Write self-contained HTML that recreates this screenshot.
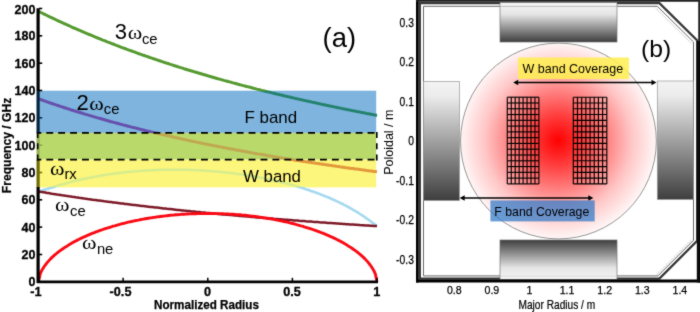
<!DOCTYPE html>
<html><head><meta charset="utf-8"><title>figure</title>
<style>html,body{margin:0;padding:0;background:#fff}svg{display:block}</style>
</head><body>
<svg width="700" height="312" viewBox="0 0 700 312" font-family="Liberation Sans, sans-serif" fill="#000">
<defs>
<filter id="soft" x="0" y="0" width="700" height="312" filterUnits="userSpaceOnUse" color-interpolation-filters="sRGB"><feConvolveMatrix order="3" kernelMatrix="1 4 1 4 30 4 1 4 1" divisor="50" edgeMode="duplicate" preserveAlpha="true"/></filter>
<linearGradient id="g3" gradientUnits="userSpaceOnUse" x1="0" y1="0" x2="0" y2="312"><stop offset="0.00000" stop-color="#559a30"/><stop offset="0.29071" stop-color="#559a30"/><stop offset="0.29071" stop-color="#23826e"/><stop offset="0.42596" stop-color="#23826e"/><stop offset="0.42596" stop-color="#23826e"/><stop offset="0.51154" stop-color="#23826e"/><stop offset="0.51154" stop-color="#23826e"/><stop offset="0.60064" stop-color="#23826e"/><stop offset="0.60064" stop-color="#559a30"/><stop offset="1.00000" stop-color="#559a30"/></linearGradient>
<linearGradient id="g2" gradientUnits="userSpaceOnUse" x1="0" y1="0" x2="0" y2="312"><stop offset="0.00000" stop-color="#d0409a"/><stop offset="0.29071" stop-color="#d0409a"/><stop offset="0.29071" stop-color="#6650ac"/><stop offset="0.42596" stop-color="#6650ac"/><stop offset="0.42596" stop-color="#c0a850"/><stop offset="0.51154" stop-color="#c0a850"/><stop offset="0.51154" stop-color="#e3983c"/><stop offset="0.60064" stop-color="#e3983c"/><stop offset="0.60064" stop-color="#d0409a"/><stop offset="1.00000" stop-color="#d0409a"/></linearGradient>
<linearGradient id="grx" gradientUnits="userSpaceOnUse" x1="0" y1="0" x2="0" y2="312"><stop offset="0.00000" stop-color="#a5d9ef"/><stop offset="0.29071" stop-color="#a5d9ef"/><stop offset="0.29071" stop-color="#a5d9ef"/><stop offset="0.42596" stop-color="#a5d9ef"/><stop offset="0.42596" stop-color="#cfe684"/><stop offset="0.51154" stop-color="#cfe684"/><stop offset="0.51154" stop-color="#d6ec8c"/><stop offset="0.60064" stop-color="#d6ec8c"/><stop offset="0.60064" stop-color="#a5d9ef"/><stop offset="1.00000" stop-color="#a5d9ef"/></linearGradient>
<linearGradient id="gax" gradientUnits="userSpaceOnUse" x1="0" y1="0" x2="0" y2="312"><stop offset="0.00000" stop-color="#000"/><stop offset="0.29071" stop-color="#000"/><stop offset="0.29071" stop-color="#05233f"/><stop offset="0.42596" stop-color="#05233f"/><stop offset="0.42596" stop-color="#97b055"/><stop offset="0.51154" stop-color="#97b055"/><stop offset="0.51154" stop-color="#6e6a05"/><stop offset="0.60064" stop-color="#6e6a05"/><stop offset="0.60064" stop-color="#000"/><stop offset="1.00000" stop-color="#000"/></linearGradient>
<linearGradient id="gd" x1="0" y1="0" x2="0" y2="1"><stop offset="0" stop-color="#f3f3f3"/><stop offset="0.12" stop-color="#ececec"/><stop offset="1" stop-color="#3e3e3e"/></linearGradient>
<linearGradient id="gu" x1="0" y1="1" x2="0" y2="0"><stop offset="0" stop-color="#f3f3f3"/><stop offset="0.12" stop-color="#ececec"/><stop offset="1" stop-color="#3e3e3e"/></linearGradient>
<linearGradient id="gd2" x1="0" y1="0" x2="0" y2="1"><stop offset="0" stop-color="#f6f6f6"/><stop offset="0.3" stop-color="#e4e4e4"/><stop offset="1" stop-color="#3e3e3e"/></linearGradient>
<linearGradient id="gu2" x1="0" y1="1" x2="0" y2="0"><stop offset="0" stop-color="#f6f6f6"/><stop offset="0.3" stop-color="#e4e4e4"/><stop offset="1" stop-color="#3e3e3e"/></linearGradient>
<radialGradient id="pl" gradientUnits="userSpaceOnUse" cx="558" cy="140.5" r="98"><stop offset="0" stop-color="#ff0000"/><stop offset="0.25" stop-color="#ff3c3c"/><stop offset="0.5" stop-color="#ff8080"/><stop offset="0.75" stop-color="#ffc6c6"/><stop offset="1" stop-color="#fff6f6"/></radialGradient>
</defs>
<g filter="url(#soft)">
<rect x="0" y="0" width="700" height="312" fill="#fff"/>
<rect x="37.0" y="90.7" width="339.2" height="42.2" fill="#7eb4de"/>
<rect x="37.0" y="132.9" width="339.2" height="26.7" fill="#b9d96b"/>
<rect x="37.0" y="159.6" width="339.2" height="27.8" fill="#fdf67c"/>
<g fill="none" stroke-linecap="butt" stroke-linejoin="round">
<path d="M38.5,191.5 L40.2,191.1 L41.9,190.6 L43.6,190.0 L45.3,189.5 L47.0,189.0 L48.7,188.4 L50.3,187.9 L52.0,187.4 L53.7,186.9 L55.4,186.3 L57.1,185.8 L58.8,185.3 L60.5,184.8 L62.2,184.3 L63.9,183.9 L65.6,183.4 L67.3,182.9 L69.0,182.5 L70.7,182.1 L72.3,181.6 L74.0,181.2 L75.7,180.8 L77.4,180.4 L79.1,180.0 L80.8,179.6 L82.5,179.2 L84.2,178.9 L85.9,178.5 L87.6,178.1 L89.3,177.8 L91.0,177.5 L92.7,177.1 L94.4,176.8 L96.0,176.5 L97.7,176.2 L99.4,175.9 L101.1,175.6 L102.8,175.3 L104.5,175.0 L106.2,174.8 L107.9,174.5 L109.6,174.3 L111.3,174.0 L113.0,173.8 L114.7,173.6 L116.4,173.3 L118.0,173.1 L119.7,172.9 L121.4,172.7 L123.1,172.5 L124.8,172.3 L126.5,172.1 L128.2,172.0 L129.9,171.8 L131.6,171.6 L133.3,171.5 L135.0,171.3 L136.7,171.2 L138.4,171.1 L140.1,170.9 L141.7,170.8 L143.4,170.7 L145.1,170.6 L146.8,170.5 L148.5,170.4 L150.2,170.3 L151.9,170.2 L153.6,170.1 L155.3,170.1 L157.0,170.0 L158.7,169.9 L160.4,169.9 L162.1,169.8 L163.7,169.8 L165.4,169.8 L167.1,169.7 L168.8,169.7 L170.5,169.7 L172.2,169.7 L173.9,169.7 L175.6,169.7 L177.3,169.7 L179.0,169.7 L180.7,169.7 L182.4,169.8 L184.1,169.8 L185.7,169.8 L187.4,169.9 L189.1,169.9 L190.8,170.0 L192.5,170.0 L194.2,170.1 L195.9,170.2 L197.6,170.2 L199.3,170.3 L201.0,170.4 L202.7,170.5 L204.4,170.6 L206.1,170.7 L207.8,170.9 L209.4,171.0 L211.1,171.1 L212.8,171.2 L214.5,171.4 L216.2,171.5 L217.9,171.7 L219.6,171.8 L221.3,172.0 L223.0,172.2 L224.7,172.3 L226.4,172.5 L228.1,172.7 L229.8,172.9 L231.4,173.1 L233.1,173.3 L234.8,173.5 L236.5,173.8 L238.2,174.0 L239.9,174.2 L241.6,174.5 L243.3,174.7 L245.0,175.0 L246.7,175.2 L248.4,175.5 L250.1,175.8 L251.8,176.1 L253.4,176.3 L255.1,176.6 L256.8,176.9 L258.5,177.3 L260.2,177.6 L261.9,177.9 L263.6,178.2 L265.3,178.6 L267.0,178.9 L268.7,179.3 L270.4,179.6 L272.1,180.0 L273.8,180.4 L275.5,180.8 L277.1,181.2 L278.8,181.6 L280.5,182.0 L282.2,182.4 L283.9,182.8 L285.6,183.2 L287.3,183.7 L289.0,184.1 L290.7,184.6 L292.4,185.1 L294.1,185.5 L295.8,186.0 L297.5,186.5 L299.1,187.0 L300.8,187.6 L302.5,188.1 L304.2,188.6 L305.9,189.2 L307.6,189.7 L309.3,190.3 L311.0,190.9 L312.7,191.5 L314.4,192.1 L316.1,192.7 L317.8,193.3 L319.5,193.9 L321.1,194.6 L322.8,195.3 L324.5,195.9 L326.2,196.6 L327.9,197.3 L329.6,198.0 L331.3,198.8 L333.0,199.5 L334.7,200.3 L336.4,201.1 L338.1,201.8 L339.8,202.7 L341.5,203.5 L343.2,204.3 L344.8,205.2 L346.5,206.1 L348.2,207.0 L349.9,207.9 L351.6,208.9 L353.3,209.8 L355.0,210.8 L356.7,211.9 L358.4,212.9 L360.1,214.0 L361.8,215.1 L363.5,216.2 L365.2,217.4 L366.8,218.6 L368.5,219.8 L370.2,221.0 L371.9,222.3 L373.6,223.6 L375.3,224.9 L377.0,226.1" stroke="url(#grx)" stroke-width="2.6"/>
<path d="M38.5,11.3 L40.2,12.2 L41.9,13.0 L43.6,13.8 L45.3,14.7 L47.0,15.5 L48.7,16.3 L50.3,17.1 L52.0,17.9 L53.7,18.7 L55.4,19.5 L57.1,20.3 L58.8,21.1 L60.5,21.9 L62.2,22.7 L63.9,23.5 L65.6,24.2 L67.3,25.0 L69.0,25.7 L70.7,26.5 L72.3,27.3 L74.0,28.0 L75.7,28.7 L77.4,29.5 L79.1,30.2 L80.8,30.9 L82.5,31.7 L84.2,32.4 L85.9,33.1 L87.6,33.8 L89.3,34.5 L91.0,35.2 L92.7,35.9 L94.4,36.6 L96.0,37.3 L97.7,38.0 L99.4,38.7 L101.1,39.4 L102.8,40.1 L104.5,40.7 L106.2,41.4 L107.9,42.1 L109.6,42.7 L111.3,43.4 L113.0,44.0 L114.7,44.7 L116.4,45.3 L118.0,46.0 L119.7,46.6 L121.4,47.3 L123.1,47.9 L124.8,48.5 L126.5,49.2 L128.2,49.8 L129.9,50.4 L131.6,51.0 L133.3,51.6 L135.0,52.2 L136.7,52.9 L138.4,53.5 L140.1,54.1 L141.7,54.7 L143.4,55.3 L145.1,55.8 L146.8,56.4 L148.5,57.0 L150.2,57.6 L151.9,58.2 L153.6,58.8 L155.3,59.3 L157.0,59.9 L158.7,60.5 L160.4,61.0 L162.1,61.6 L163.7,62.2 L165.4,62.7 L167.1,63.3 L168.8,63.8 L170.5,64.4 L172.2,64.9 L173.9,65.5 L175.6,66.0 L177.3,66.5 L179.0,67.1 L180.7,67.6 L182.4,68.1 L184.1,68.7 L185.7,69.2 L187.4,69.7 L189.1,70.2 L190.8,70.7 L192.5,71.2 L194.2,71.8 L195.9,72.3 L197.6,72.8 L199.3,73.3 L201.0,73.8 L202.7,74.3 L204.4,74.8 L206.1,75.3 L207.8,75.8 L209.4,76.2 L211.1,76.7 L212.8,77.2 L214.5,77.7 L216.2,78.2 L217.9,78.7 L219.6,79.1 L221.3,79.6 L223.0,80.1 L224.7,80.6 L226.4,81.0 L228.1,81.5 L229.8,81.9 L231.4,82.4 L233.1,82.9 L234.8,83.3 L236.5,83.8 L238.2,84.2 L239.9,84.7 L241.6,85.1 L243.3,85.6 L245.0,86.0 L246.7,86.5 L248.4,86.9 L250.1,87.3 L251.8,87.8 L253.4,88.2 L255.1,88.6 L256.8,89.1 L258.5,89.5 L260.2,89.9 L261.9,90.4 L263.6,90.8 L265.3,91.2 L267.0,91.6 L268.7,92.0 L270.4,92.4 L272.1,92.9 L273.8,93.3 L275.5,93.7 L277.1,94.1 L278.8,94.5 L280.5,94.9 L282.2,95.3 L283.9,95.7 L285.6,96.1 L287.3,96.5 L289.0,96.9 L290.7,97.3 L292.4,97.7 L294.1,98.1 L295.8,98.5 L297.5,98.9 L299.1,99.2 L300.8,99.6 L302.5,100.0 L304.2,100.4 L305.9,100.8 L307.6,101.1 L309.3,101.5 L311.0,101.9 L312.7,102.3 L314.4,102.6 L316.1,103.0 L317.8,103.4 L319.5,103.8 L321.1,104.1 L322.8,104.5 L324.5,104.8 L326.2,105.2 L327.9,105.6 L329.6,105.9 L331.3,106.3 L333.0,106.6 L334.7,107.0 L336.4,107.3 L338.1,107.7 L339.8,108.0 L341.5,108.4 L343.2,108.7 L344.8,109.1 L346.5,109.4 L348.2,109.8 L349.9,110.1 L351.6,110.5 L353.3,110.8 L355.0,111.1 L356.7,111.5 L358.4,111.8 L360.1,112.1 L361.8,112.5 L363.5,112.8 L365.2,113.1 L366.8,113.5 L368.5,113.8 L370.2,114.1 L371.9,114.4 L373.6,114.8 L375.3,115.1 L377.0,115.4" stroke="url(#g3)" stroke-width="3"/>
<path d="M38.5,98.8 L40.2,99.4 L41.9,100.0 L43.6,100.6 L45.3,101.2 L47.0,101.8 L48.7,102.4 L50.3,103.0 L52.0,103.5 L53.7,104.1 L55.4,104.7 L57.1,105.3 L58.8,105.8 L60.5,106.4 L62.2,106.9 L63.9,107.5 L65.6,108.0 L67.3,108.6 L69.0,109.1 L70.7,109.7 L72.3,110.2 L74.0,110.7 L75.7,111.3 L77.4,111.8 L79.1,112.3 L80.8,112.8 L82.5,113.3 L84.2,113.9 L85.9,114.4 L87.6,114.9 L89.3,115.4 L91.0,115.9 L92.7,116.4 L94.4,116.9 L96.0,117.4 L97.7,117.9 L99.4,118.3 L101.1,118.8 L102.8,119.3 L104.5,119.8 L106.2,120.3 L107.9,120.7 L109.6,121.2 L111.3,121.7 L113.0,122.1 L114.7,122.6 L116.4,123.0 L118.0,123.5 L119.7,124.0 L121.4,124.4 L123.1,124.9 L124.8,125.3 L126.5,125.7 L128.2,126.2 L129.9,126.6 L131.6,127.1 L133.3,127.5 L135.0,127.9 L136.7,128.3 L138.4,128.8 L140.1,129.2 L141.7,129.6 L143.4,130.0 L145.1,130.4 L146.8,130.9 L148.5,131.3 L150.2,131.7 L151.9,132.1 L153.6,132.5 L155.3,132.9 L157.0,133.3 L158.7,133.7 L160.4,134.1 L162.1,134.5 L163.7,134.9 L165.4,135.3 L167.1,135.7 L168.8,136.0 L170.5,136.4 L172.2,136.8 L173.9,137.2 L175.6,137.6 L177.3,137.9 L179.0,138.3 L180.7,138.7 L182.4,139.1 L184.1,139.4 L185.7,139.8 L187.4,140.2 L189.1,140.5 L190.8,140.9 L192.5,141.2 L194.2,141.6 L195.9,142.0 L197.6,142.3 L199.3,142.7 L201.0,143.0 L202.7,143.4 L204.4,143.7 L206.1,144.1 L207.8,144.4 L209.4,144.7 L211.1,145.1 L212.8,145.4 L214.5,145.8 L216.2,146.1 L217.9,146.4 L219.6,146.8 L221.3,147.1 L223.0,147.4 L224.7,147.7 L226.4,148.1 L228.1,148.4 L229.8,148.7 L231.4,149.0 L233.1,149.3 L234.8,149.7 L236.5,150.0 L238.2,150.3 L239.9,150.6 L241.6,150.9 L243.3,151.2 L245.0,151.5 L246.7,151.8 L248.4,152.1 L250.1,152.5 L251.8,152.8 L253.4,153.1 L255.1,153.4 L256.8,153.7 L258.5,154.0 L260.2,154.2 L261.9,154.5 L263.6,154.8 L265.3,155.1 L267.0,155.4 L268.7,155.7 L270.4,156.0 L272.1,156.3 L273.8,156.6 L275.5,156.8 L277.1,157.1 L278.8,157.4 L280.5,157.7 L282.2,158.0 L283.9,158.2 L285.6,158.5 L287.3,158.8 L289.0,159.1 L290.7,159.3 L292.4,159.6 L294.1,159.9 L295.8,160.2 L297.5,160.4 L299.1,160.7 L300.8,161.0 L302.5,161.2 L304.2,161.5 L305.9,161.7 L307.6,162.0 L309.3,162.3 L311.0,162.5 L312.7,162.8 L314.4,163.0 L316.1,163.3 L317.8,163.5 L319.5,163.8 L321.1,164.1 L322.8,164.3 L324.5,164.6 L326.2,164.8 L327.9,165.0 L329.6,165.3 L331.3,165.5 L333.0,165.8 L334.7,166.0 L336.4,166.3 L338.1,166.5 L339.8,166.8 L341.5,167.0 L343.2,167.2 L344.8,167.5 L346.5,167.7 L348.2,167.9 L349.9,168.2 L351.6,168.4 L353.3,168.6 L355.0,168.9 L356.7,169.1 L358.4,169.3 L360.1,169.6 L361.8,169.8 L363.5,170.0 L365.2,170.2 L366.8,170.5 L368.5,170.7 L370.2,170.9 L371.9,171.1 L373.6,171.4 L375.3,171.6 L377.0,171.8" stroke="url(#g2)" stroke-width="3"/>
<path d="M38.5,191.5 L40.2,191.8 L41.9,192.0 L43.6,192.3 L45.3,192.6 L47.0,192.9 L48.7,193.1 L50.3,193.4 L52.0,193.7 L53.7,193.9 L55.4,194.2 L57.1,194.5 L58.8,194.7 L60.5,195.0 L62.2,195.3 L63.9,195.5 L65.6,195.8 L67.3,196.0 L69.0,196.3 L70.7,196.5 L72.3,196.8 L74.0,197.0 L75.7,197.3 L77.4,197.5 L79.1,197.8 L80.8,198.0 L82.5,198.2 L84.2,198.5 L85.9,198.7 L87.6,199.0 L89.3,199.2 L91.0,199.4 L92.7,199.7 L94.4,199.9 L96.0,200.1 L97.7,200.4 L99.4,200.6 L101.1,200.8 L102.8,201.0 L104.5,201.3 L106.2,201.5 L107.9,201.7 L109.6,201.9 L111.3,202.1 L113.0,202.4 L114.7,202.6 L116.4,202.8 L118.0,203.0 L119.7,203.2 L121.4,203.4 L123.1,203.6 L124.8,203.9 L126.5,204.1 L128.2,204.3 L129.9,204.5 L131.6,204.7 L133.3,204.9 L135.0,205.1 L136.7,205.3 L138.4,205.5 L140.1,205.7 L141.7,205.9 L143.4,206.1 L145.1,206.3 L146.8,206.5 L148.5,206.7 L150.2,206.9 L151.9,207.1 L153.6,207.3 L155.3,207.5 L157.0,207.6 L158.7,207.8 L160.4,208.0 L162.1,208.2 L163.7,208.4 L165.4,208.6 L167.1,208.8 L168.8,208.9 L170.5,209.1 L172.2,209.3 L173.9,209.5 L175.6,209.7 L177.3,209.9 L179.0,210.0 L180.7,210.2 L182.4,210.4 L184.1,210.6 L185.7,210.7 L187.4,210.9 L189.1,211.1 L190.8,211.3 L192.5,211.4 L194.2,211.6 L195.9,211.8 L197.6,211.9 L199.3,212.1 L201.0,212.3 L202.7,212.4 L204.4,212.6 L206.1,212.8 L207.8,212.9 L209.4,213.1 L211.1,213.3 L212.8,213.4 L214.5,213.6 L216.2,213.7 L217.9,213.9 L219.6,214.1 L221.3,214.2 L223.0,214.4 L224.7,214.5 L226.4,214.7 L228.1,214.8 L229.8,215.0 L231.4,215.1 L233.1,215.3 L234.8,215.4 L236.5,215.6 L238.2,215.8 L239.9,215.9 L241.6,216.1 L243.3,216.2 L245.0,216.3 L246.7,216.5 L248.4,216.6 L250.1,216.8 L251.8,216.9 L253.4,217.1 L255.1,217.2 L256.8,217.4 L258.5,217.5 L260.2,217.7 L261.9,217.8 L263.6,217.9 L265.3,218.1 L267.0,218.2 L268.7,218.4 L270.4,218.5 L272.1,218.6 L273.8,218.8 L275.5,218.9 L277.1,219.0 L278.8,219.2 L280.5,219.3 L282.2,219.4 L283.9,219.6 L285.6,219.7 L287.3,219.8 L289.0,220.0 L290.7,220.1 L292.4,220.2 L294.1,220.4 L295.8,220.5 L297.5,220.6 L299.1,220.8 L300.8,220.9 L302.5,221.0 L304.2,221.1 L305.9,221.3 L307.6,221.4 L309.3,221.5 L311.0,221.6 L312.7,221.8 L314.4,221.9 L316.1,222.0 L317.8,222.1 L319.5,222.3 L321.1,222.4 L322.8,222.5 L324.5,222.6 L326.2,222.7 L327.9,222.9 L329.6,223.0 L331.3,223.1 L333.0,223.2 L334.7,223.3 L336.4,223.5 L338.1,223.6 L339.8,223.7 L341.5,223.8 L343.2,223.9 L344.8,224.0 L346.5,224.2 L348.2,224.3 L349.9,224.4 L351.6,224.5 L353.3,224.6 L355.0,224.7 L356.7,224.8 L358.4,224.9 L360.1,225.1 L361.8,225.2 L363.5,225.3 L365.2,225.4 L366.8,225.5 L368.5,225.6 L370.2,225.7 L371.9,225.8 L373.6,225.9 L375.3,226.0 L377.0,226.1" stroke="#7d1a28" stroke-width="2.5"/>
<path d="M38.5,281.8 L40.2,273.9 L41.9,270.2 L43.6,267.4 L45.3,265.0 L47.0,262.8 L48.7,260.9 L50.3,259.1 L52.0,257.4 L53.7,255.9 L55.4,254.4 L57.1,253.0 L58.8,251.7 L60.5,250.4 L62.2,249.2 L63.9,248.0 L65.6,246.9 L67.3,245.9 L69.0,244.8 L70.7,243.8 L72.3,242.8 L74.0,241.9 L75.7,241.0 L77.4,240.1 L79.1,239.3 L80.8,238.4 L82.5,237.6 L84.2,236.8 L85.9,236.1 L87.6,235.3 L89.3,234.6 L91.0,233.9 L92.7,233.2 L94.4,232.6 L96.0,231.9 L97.7,231.3 L99.4,230.7 L101.1,230.1 L102.8,229.5 L104.5,228.9 L106.2,228.3 L107.9,227.8 L109.6,227.3 L111.3,226.8 L113.0,226.2 L114.7,225.8 L116.4,225.3 L118.0,224.8 L119.7,224.4 L121.4,223.9 L123.1,223.5 L124.8,223.1 L126.5,222.6 L128.2,222.2 L129.9,221.8 L131.6,221.5 L133.3,221.1 L135.0,220.7 L136.7,220.4 L138.4,220.1 L140.1,219.7 L141.7,219.4 L143.4,219.1 L145.1,218.8 L146.8,218.5 L148.5,218.2 L150.2,217.9 L151.9,217.7 L153.6,217.4 L155.3,217.2 L157.0,216.9 L158.7,216.7 L160.4,216.5 L162.1,216.3 L163.7,216.1 L165.4,215.9 L167.1,215.7 L168.8,215.5 L170.5,215.3 L172.2,215.1 L173.9,215.0 L175.6,214.8 L177.3,214.7 L179.0,214.6 L180.7,214.4 L182.4,214.3 L184.1,214.2 L185.7,214.1 L187.4,214.0 L189.1,213.9 L190.8,213.9 L192.5,213.8 L194.2,213.7 L195.9,213.7 L197.6,213.6 L199.3,213.6 L201.0,213.5 L202.7,213.5 L204.4,213.5 L206.1,213.5 L207.8,213.5 L209.4,213.5 L211.1,213.5 L212.8,213.5 L214.5,213.5 L216.2,213.6 L217.9,213.6 L219.6,213.7 L221.3,213.7 L223.0,213.8 L224.7,213.9 L226.4,213.9 L228.1,214.0 L229.8,214.1 L231.4,214.2 L233.1,214.3 L234.8,214.4 L236.5,214.6 L238.2,214.7 L239.9,214.8 L241.6,215.0 L243.3,215.1 L245.0,215.3 L246.7,215.5 L248.4,215.7 L250.1,215.9 L251.8,216.1 L253.4,216.3 L255.1,216.5 L256.8,216.7 L258.5,216.9 L260.2,217.2 L261.9,217.4 L263.6,217.7 L265.3,217.9 L267.0,218.2 L268.7,218.5 L270.4,218.8 L272.1,219.1 L273.8,219.4 L275.5,219.7 L277.1,220.1 L278.8,220.4 L280.5,220.7 L282.2,221.1 L283.9,221.5 L285.6,221.8 L287.3,222.2 L289.0,222.6 L290.7,223.1 L292.4,223.5 L294.1,223.9 L295.8,224.4 L297.5,224.8 L299.1,225.3 L300.8,225.8 L302.5,226.2 L304.2,226.8 L305.9,227.3 L307.6,227.8 L309.3,228.3 L311.0,228.9 L312.7,229.5 L314.4,230.1 L316.1,230.7 L317.8,231.3 L319.5,231.9 L321.1,232.6 L322.8,233.2 L324.5,233.9 L326.2,234.6 L327.9,235.3 L329.6,236.1 L331.3,236.8 L333.0,237.6 L334.7,238.4 L336.4,239.3 L338.1,240.1 L339.8,241.0 L341.5,241.9 L343.2,242.8 L344.8,243.8 L346.5,244.8 L348.2,245.9 L349.9,246.9 L351.6,248.0 L353.3,249.2 L355.0,250.4 L356.7,251.7 L358.4,253.0 L360.1,254.4 L361.8,255.9 L363.5,257.4 L365.2,259.1 L366.8,260.9 L368.5,262.8 L370.2,265.0 L371.9,267.4 L373.6,270.2 L375.3,273.9 L377.0,281.8" stroke="#fb0a14" stroke-width="2.9"/>
</g>
<line x1="38.1" y1="8.2" x2="38.1" y2="283.1" stroke="url(#gax)" stroke-width="3.2"/>
<line x1="37.2" y1="281.8" x2="378" y2="281.8" stroke="#000" stroke-width="2.7"/>
<line x1="39" y1="281.8" x2="42.2" y2="281.8" stroke="#000" stroke-width="1.6"/>
<line x1="39" y1="254.5" x2="42.2" y2="254.5" stroke="#000" stroke-width="1.6"/>
<line x1="39" y1="227.1" x2="42.2" y2="227.1" stroke="#000" stroke-width="1.6"/>
<line x1="39" y1="199.8" x2="42.2" y2="199.8" stroke="#000" stroke-width="1.6"/>
<line x1="39" y1="172.5" x2="42.2" y2="172.5" stroke="#77720a" stroke-width="1.6"/>
<line x1="39" y1="145.2" x2="42.2" y2="145.2" stroke="#8aa34a" stroke-width="1.6"/>
<line x1="39" y1="117.8" x2="42.2" y2="117.8" stroke="#0a3055" stroke-width="1.6"/>
<line x1="39" y1="90.5" x2="42.2" y2="90.5" stroke="#000" stroke-width="1.6"/>
<line x1="39" y1="63.2" x2="42.2" y2="63.2" stroke="#000" stroke-width="1.6"/>
<line x1="39" y1="35.8" x2="42.2" y2="35.8" stroke="#000" stroke-width="1.6"/>
<line x1="39" y1="8.5" x2="42.2" y2="8.5" stroke="#000" stroke-width="1.6"/>
<line x1="38.5" y1="281" x2="38.5" y2="277.8" stroke="#000" stroke-width="1.5"/>
<line x1="123.1" y1="281" x2="123.1" y2="277.8" stroke="#000" stroke-width="1.5"/>
<line x1="207.8" y1="281" x2="207.8" y2="277.8" stroke="#000" stroke-width="1.5"/>
<line x1="292.4" y1="281" x2="292.4" y2="277.8" stroke="#000" stroke-width="1.5"/>
<line x1="377.0" y1="281" x2="377.0" y2="277.8" stroke="#000" stroke-width="1.5"/>
<line x1="36.9" y1="132.9" x2="377.6" y2="132.9" stroke="#000" stroke-width="1.7" stroke-dasharray="6.9 5" stroke-dashoffset="2.5"/>
<line x1="36.9" y1="159.6" x2="377.6" y2="159.6" stroke="#000" stroke-width="1.7" stroke-dasharray="6.9 5" stroke-dashoffset="2.5"/>
<line x1="37.7" y1="132.05" x2="37.7" y2="160.45" stroke="#000" stroke-width="1.6" stroke-dasharray="6 5.2"/>
<line x1="376.8" y1="132.05" x2="376.8" y2="160.45" stroke="#000" stroke-width="1.6" stroke-dasharray="6 5.2"/>
<g font-weight="bold" font-size="12" fill="#000">
<text x="28.45" y="286.20" font-size="12.5" font-weight="bold" stroke="#000" stroke-width="0.30" textLength="6.95" lengthAdjust="spacingAndGlyphs">0</text>
<text x="21.50" y="258.87" font-size="12.5" font-weight="bold" stroke="#000" stroke-width="0.30" textLength="13.90" lengthAdjust="spacingAndGlyphs">20</text>
<text x="21.50" y="231.54" font-size="12.5" font-weight="bold" stroke="#000" stroke-width="0.30" textLength="13.90" lengthAdjust="spacingAndGlyphs">40</text>
<text x="21.50" y="204.21" font-size="12.5" font-weight="bold" stroke="#000" stroke-width="0.30" textLength="13.90" lengthAdjust="spacingAndGlyphs">60</text>
<text x="21.50" y="176.88" font-size="12.5" font-weight="bold" stroke="#000" stroke-width="0.30" textLength="13.90" lengthAdjust="spacingAndGlyphs">80</text>
<text x="14.54" y="149.55" font-size="12.5" font-weight="bold" stroke="#000" stroke-width="0.30" textLength="20.86" lengthAdjust="spacingAndGlyphs">100</text>
<text x="14.54" y="122.22" font-size="12.5" font-weight="bold" stroke="#000" stroke-width="0.30" textLength="20.86" lengthAdjust="spacingAndGlyphs">120</text>
<text x="14.54" y="94.89" font-size="12.5" font-weight="bold" stroke="#000" stroke-width="0.30" textLength="20.86" lengthAdjust="spacingAndGlyphs">140</text>
<text x="14.54" y="67.56" font-size="12.5" font-weight="bold" stroke="#000" stroke-width="0.30" textLength="20.86" lengthAdjust="spacingAndGlyphs">160</text>
<text x="14.54" y="40.23" font-size="12.5" font-weight="bold" stroke="#000" stroke-width="0.30" textLength="20.86" lengthAdjust="spacingAndGlyphs">180</text>
<text x="14.54" y="13.70" font-size="12.5" font-weight="bold" stroke="#000" stroke-width="0.30" textLength="20.86" lengthAdjust="spacingAndGlyphs">200</text>
<text x="30.27" y="295.50" font-size="12.3" font-weight="bold" stroke="#000" stroke-width="0.30" textLength="11.27" lengthAdjust="spacingAndGlyphs">-1</text>
<text x="109.61" y="295.50" font-size="12.3" font-weight="bold" stroke="#000" stroke-width="0.30" textLength="21.83" lengthAdjust="spacingAndGlyphs">-0.5</text>
<text x="203.93" y="295.50" font-size="12.3" font-weight="bold" stroke="#000" stroke-width="0.30" textLength="7.05" lengthAdjust="spacingAndGlyphs">0</text>
<text x="283.27" y="295.50" font-size="12.3" font-weight="bold" stroke="#000" stroke-width="0.30" textLength="17.61" lengthAdjust="spacingAndGlyphs">0.5</text>
<text x="373.18" y="295.50" font-size="12.3" font-weight="bold" stroke="#000" stroke-width="0.30" textLength="7.05" lengthAdjust="spacingAndGlyphs">1</text>
<text x="206.5" y="308.5" stroke="#000" stroke-width="0.25" text-anchor="middle" textLength="104.9" lengthAdjust="spacingAndGlyphs">Normalized Radius</text>
<text transform="translate(10.9,145.5) rotate(-90)" font-size="13" stroke="#000" stroke-width="0.2" text-anchor="middle" textLength="95.4" lengthAdjust="spacingAndGlyphs">Frequency / GHz</text>
</g>
<text><tspan x="114.8" y="39.3" font-size="22">3</tspan><tspan x="127.72" y="39.3" font-size="19.5" font-family="Liberation Serif, serif" textLength="14.50" lengthAdjust="spacingAndGlyphs">ω</tspan><tspan x="141.9" y="44.0" font-size="14.8">ce</tspan></text>
<text><tspan x="76.5" y="109.6" font-size="22">2</tspan><tspan x="89.22" y="109.6" font-size="19.5" font-family="Liberation Serif, serif" textLength="14.50" lengthAdjust="spacingAndGlyphs">ω</tspan><tspan x="103.8" y="114.3" font-size="14.8">ce</tspan></text>
<text><tspan x="50.12" y="174.6" font-size="19.5" font-family="Liberation Serif, serif" textLength="14.50" lengthAdjust="spacingAndGlyphs">ω</tspan><tspan x="64.4" y="179.0" font-size="14.8">rx</tspan></text>
<text><tspan x="55.12" y="211.0" font-size="19.5" font-family="Liberation Serif, serif" textLength="14.50" lengthAdjust="spacingAndGlyphs">ω</tspan><tspan x="70.0" y="216.3" font-size="14.8">ce</tspan></text>
<text><tspan x="81.92" y="249.2" font-size="19.5" font-family="Liberation Serif, serif" textLength="14.50" lengthAdjust="spacingAndGlyphs">ω</tspan><tspan x="96.9" y="254.0" font-size="14.8">ne</tspan></text>
<text x="244.5" y="122.6" font-size="16.4" textLength="52.7" lengthAdjust="spacingAndGlyphs">F band</text>
<text x="243.1" y="182.1" font-size="16.8">W band</text>
<text x="322.6" y="46.7" font-size="27.4">(a)</text>
<circle cx="558.45" cy="141" r="97.9" fill="url(#pl)" stroke="#8a8a8a" stroke-width="0.9"/>
<path d="M419.8,3.0 L659.2,3.0 L697.2,40.5 L697.2,240.8 L659.4,278.6 L419.8,278.6 Z" fill="none" stroke="#383838" stroke-width="2.3"/>
<path d="M423.5,6.3 L657.3,6.3 L693.5,42 L693.5,240.3 L657.9,275.9 L423.5,275.9 Z" fill="none" stroke="#6a6a6a" stroke-width="1"/>
<path d="M655.5,8 L691.6,43.6 M691.9,239.5 L656.4,275" fill="none" stroke="#d0d0d0" stroke-width="0.9"/>
<rect x="500" y="2.5" width="117" height="39.5" fill="url(#gd2)" stroke="#777" stroke-width="0.7"/>
<rect x="500" y="240" width="117" height="39.6" fill="url(#gu2)" stroke="#777" stroke-width="0.7"/>
<rect x="423.5" y="81.5" width="36" height="119" fill="url(#gd)" stroke="#999" stroke-width="0.7"/>
<rect x="657.3" y="81" width="36" height="118.5" fill="url(#gd)" stroke="#999" stroke-width="0.7"/>
<line x1="417.35" y1="0" x2="417.35" y2="282.4" stroke="#000" stroke-width="2.7"/>
<line x1="416" y1="281" x2="700" y2="281" stroke="#000" stroke-width="2.8"/>
<line x1="416" y1="0.9" x2="700" y2="0.9" stroke="#222" stroke-width="1.8"/>
<line x1="500.5" y1="6.4" x2="616.5" y2="6.4" stroke="#b8b8b8" stroke-width="0.9"/>
<line x1="500.5" y1="276.2" x2="616.5" y2="276.2" stroke="#d8d8d8" stroke-width="0.9"/>
<line x1="699.1" y1="0" x2="699.1" y2="282.4" stroke="#2a2a2a" stroke-width="1.8"/>
<line x1="698.4" y1="41" x2="698.4" y2="282.4" stroke="#0c0c0c" stroke-width="3.2"/>
<g stroke="#000" stroke-width="1.15" fill="none"><line x1="507.30" y1="97.20" x2="507.30" y2="183.90"/><line x1="511.25" y1="97.20" x2="511.25" y2="183.90"/><line x1="515.20" y1="97.20" x2="515.20" y2="183.90"/><line x1="519.15" y1="97.20" x2="519.15" y2="183.90"/><line x1="523.10" y1="97.20" x2="523.10" y2="183.90"/><line x1="527.05" y1="97.20" x2="527.05" y2="183.90"/><line x1="531.00" y1="97.20" x2="531.00" y2="183.90"/><line x1="534.95" y1="97.20" x2="534.95" y2="183.90"/><line x1="538.90" y1="97.20" x2="538.90" y2="183.90"/><line x1="507.30" y1="97.20" x2="538.90" y2="97.20"/><line x1="507.30" y1="102.98" x2="538.90" y2="102.98"/><line x1="507.30" y1="108.76" x2="538.90" y2="108.76"/><line x1="507.30" y1="114.54" x2="538.90" y2="114.54"/><line x1="507.30" y1="120.32" x2="538.90" y2="120.32"/><line x1="507.30" y1="126.10" x2="538.90" y2="126.10"/><line x1="507.30" y1="131.88" x2="538.90" y2="131.88"/><line x1="507.30" y1="137.66" x2="538.90" y2="137.66"/><line x1="507.30" y1="143.44" x2="538.90" y2="143.44"/><line x1="507.30" y1="149.22" x2="538.90" y2="149.22"/><line x1="507.30" y1="155.00" x2="538.90" y2="155.00"/><line x1="507.30" y1="160.78" x2="538.90" y2="160.78"/><line x1="507.30" y1="166.56" x2="538.90" y2="166.56"/><line x1="507.30" y1="172.34" x2="538.90" y2="172.34"/><line x1="507.30" y1="178.12" x2="538.90" y2="178.12"/><line x1="507.30" y1="183.90" x2="538.90" y2="183.90"/></g>
<g stroke="#000" stroke-width="1.15" fill="none"><line x1="573.30" y1="97.20" x2="573.30" y2="183.90"/><line x1="577.49" y1="97.20" x2="577.49" y2="183.90"/><line x1="581.67" y1="97.20" x2="581.67" y2="183.90"/><line x1="585.86" y1="97.20" x2="585.86" y2="183.90"/><line x1="590.05" y1="97.20" x2="590.05" y2="183.90"/><line x1="594.24" y1="97.20" x2="594.24" y2="183.90"/><line x1="598.42" y1="97.20" x2="598.42" y2="183.90"/><line x1="602.61" y1="97.20" x2="602.61" y2="183.90"/><line x1="606.80" y1="97.20" x2="606.80" y2="183.90"/><line x1="573.30" y1="97.20" x2="606.80" y2="97.20"/><line x1="573.30" y1="102.98" x2="606.80" y2="102.98"/><line x1="573.30" y1="108.76" x2="606.80" y2="108.76"/><line x1="573.30" y1="114.54" x2="606.80" y2="114.54"/><line x1="573.30" y1="120.32" x2="606.80" y2="120.32"/><line x1="573.30" y1="126.10" x2="606.80" y2="126.10"/><line x1="573.30" y1="131.88" x2="606.80" y2="131.88"/><line x1="573.30" y1="137.66" x2="606.80" y2="137.66"/><line x1="573.30" y1="143.44" x2="606.80" y2="143.44"/><line x1="573.30" y1="149.22" x2="606.80" y2="149.22"/><line x1="573.30" y1="155.00" x2="606.80" y2="155.00"/><line x1="573.30" y1="160.78" x2="606.80" y2="160.78"/><line x1="573.30" y1="166.56" x2="606.80" y2="166.56"/><line x1="573.30" y1="172.34" x2="606.80" y2="172.34"/><line x1="573.30" y1="178.12" x2="606.80" y2="178.12"/><line x1="573.30" y1="183.90" x2="606.80" y2="183.90"/></g>
<line x1="516.2" y1="82.5" x2="653.5" y2="82.5" stroke="#000" stroke-width="1.5"/><path d="M513.2,82.5 l5,-2.7 l0,5.4 z" fill="#000"/><path d="M656.5,82.5 l-5,-2.7 l0,5.4 z" fill="#000"/>
<line x1="462.7" y1="198.0" x2="590.3" y2="198.0" stroke="#000" stroke-width="1.5"/><path d="M459.7,198.0 l5,-2.7 l0,5.4 z" fill="#000"/><path d="M593.3,198.0 l-5,-2.7 l0,5.4 z" fill="#000"/>
<rect x="518" y="57.5" width="111" height="21.5" fill="#ffee50" fill-opacity="0.85"/>
<text x="522.6" y="73.4" font-size="12.2" textLength="100.6" lengthAdjust="spacingAndGlyphs">W band Coverage</text>
<rect x="490.4" y="200.4" width="104.3" height="21" fill="#2f78c8" fill-opacity="0.72"/>
<text x="494.3" y="216.4" font-size="12.2" textLength="95" lengthAdjust="spacingAndGlyphs">F band Coverage</text>
<text x="641.1" y="56.9" font-size="23.6" textLength="30.2" lengthAdjust="spacingAndGlyphs">(b)</text>
<text x="399.54" y="26.70" font-size="12.6" stroke="#000" stroke-width="0.25" textLength="14.36" lengthAdjust="spacingAndGlyphs">0.3</text>
<text x="399.54" y="66.20" font-size="12.6" stroke="#000" stroke-width="0.25" textLength="14.36" lengthAdjust="spacingAndGlyphs">0.2</text>
<text x="399.54" y="105.70" font-size="12.6" stroke="#000" stroke-width="0.25" textLength="14.36" lengthAdjust="spacingAndGlyphs">0.1</text>
<text x="408.15" y="145.20" font-size="12.6" stroke="#000" stroke-width="0.25" textLength="5.75" lengthAdjust="spacingAndGlyphs">0</text>
<text x="396.10" y="184.70" font-size="12.6" stroke="#000" stroke-width="0.25" textLength="17.80" lengthAdjust="spacingAndGlyphs">-0.1</text>
<text x="396.10" y="224.20" font-size="12.6" stroke="#000" stroke-width="0.25" textLength="17.80" lengthAdjust="spacingAndGlyphs">-0.2</text>
<text x="396.10" y="263.70" font-size="12.6" stroke="#000" stroke-width="0.25" textLength="17.80" lengthAdjust="spacingAndGlyphs">-0.3</text>
<text x="446.92" y="294.30" font-size="11.8" stroke="#000" stroke-width="0.25" textLength="14.76" lengthAdjust="spacingAndGlyphs">0.8</text>
<text x="484.52" y="294.30" font-size="11.8" stroke="#000" stroke-width="0.25" textLength="14.76" lengthAdjust="spacingAndGlyphs">0.9</text>
<text x="526.55" y="294.30" font-size="11.8" stroke="#000" stroke-width="0.25" textLength="5.91" lengthAdjust="spacingAndGlyphs">1</text>
<text x="559.72" y="294.30" font-size="11.8" stroke="#000" stroke-width="0.25" textLength="14.76" lengthAdjust="spacingAndGlyphs">1.1</text>
<text x="597.32" y="294.30" font-size="11.8" stroke="#000" stroke-width="0.25" textLength="14.76" lengthAdjust="spacingAndGlyphs">1.2</text>
<text x="634.92" y="294.30" font-size="11.8" stroke="#000" stroke-width="0.25" textLength="14.76" lengthAdjust="spacingAndGlyphs">1.3</text>
<text x="672.52" y="294.30" font-size="11.8" stroke="#000" stroke-width="0.25" textLength="14.76" lengthAdjust="spacingAndGlyphs">1.4</text>
<text x="518.5" y="308.9" font-size="11.9" stroke="#000" stroke-width="0.2" textLength="76.7" lengthAdjust="spacingAndGlyphs">Major Radius / m</text>
<text transform="translate(393,142.2) rotate(-90)" font-size="12" text-anchor="middle" textLength="65.3" lengthAdjust="spacingAndGlyphs">Poloidal / m</text>
</g>
</svg>
</body></html>
